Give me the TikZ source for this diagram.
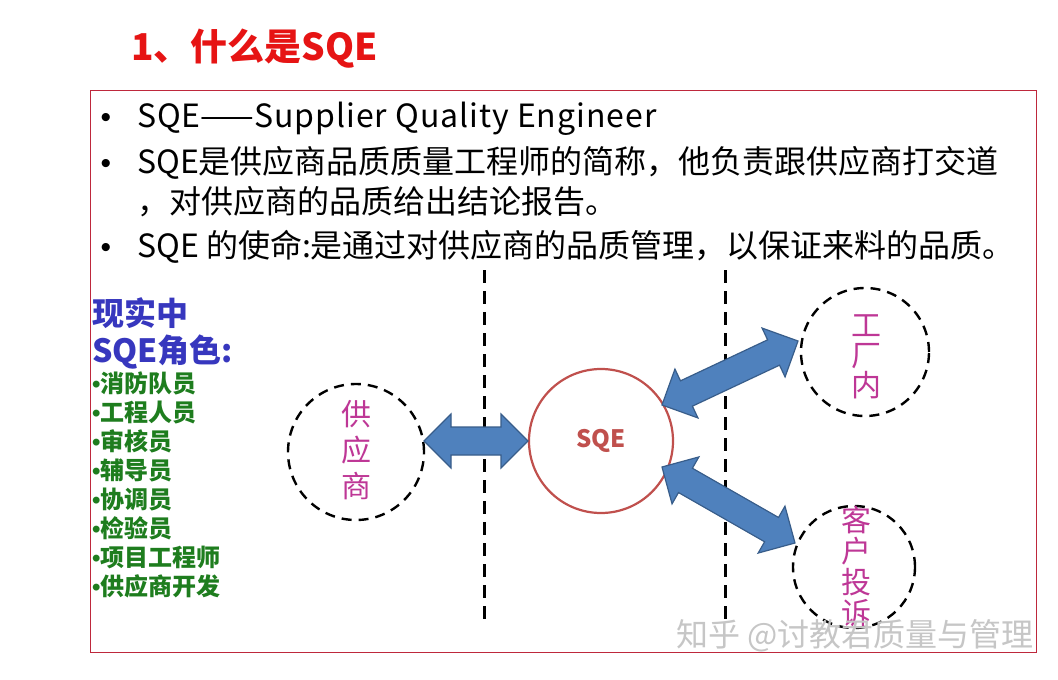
\documentclass[tikz,border=0pt]{standalone}
\usepackage{fontspec}
\setmainfont{Noto Sans CJK SC}
\newfontfamily\dotfont{Liberation Sans}
\newfontfamily\spacedfont[LetterSpace=3]{Noto Sans CJK SC}
\usetikzlibrary{calc}
\definecolor{titlered}{RGB}{230,20,20}
\definecolor{framered}{RGB}{190,40,60}
\definecolor{sqered}{RGB}{192,80,77}
\definecolor{arrfill}{RGB}{79,129,189}
\definecolor{arrdraw}{RGB}{56,93,138}
\definecolor{roleblue}{RGB}{55,55,190}
\definecolor{rolegreen}{RGB}{30,125,30}
\definecolor{magtext}{RGB}{190,55,150}
\tikzset{
  bodytext/.style={anchor=base west, font=\fontsize{32}{38}\selectfont, inner sep=0pt},
  bulletdot/.style={anchor=base, font=\dotfont\fontsize{30}{34}\selectfont, inner sep=0pt},
  bluetext/.style={anchor=base west, text=roleblue, font=\bfseries\fontsize{32}{38}\selectfont, inner sep=0pt},
  greentext/.style={anchor=base west, text=rolegreen, font=\bfseries\fontsize{24}{28}\selectfont, inner sep=0pt},
  dashcircle/.style={circle, draw=black, line width=2.4pt, dash pattern=on 10pt off 7pt},
  vtext/.style={text=magtext, align=center, inner sep=0pt},
  divider/.style={draw=black, line width=3pt, dash pattern=on 13pt off 8pt},
  arr/.style={fill=arrfill, draw=arrdraw, line width=1.2pt, line join=miter},
}
\newcommand\gdot{{\dotfont\bfseries •}}
\newcommand\dblarrow[2]{%
  \coordinate (#1-h) at ($(#1)!27pt!(#2)$);
  \coordinate (#2-h) at ($(#2)!27pt!(#1)$);
  \filldraw[arr] (#1) -- ($(#1-h)!27pt!90:(#2)$) -- ($(#1-h)!14pt!90:(#2)$)
    -- ($(#2-h)!14pt!-90:(#1)$) -- ($(#2-h)!27pt!-90:(#1)$) -- (#2)
    -- ($(#2-h)!27pt!90:(#1)$) -- ($(#2-h)!14pt!90:(#1)$)
    -- ($(#1-h)!14pt!-90:(#2)$) -- ($(#1-h)!27pt!-90:(#2)$) -- cycle;}
\begin{document}
\begin{tikzpicture}[x=1pt,y=-1pt]
\useasboundingbox (0,0) rectangle (1058,680);
\fill[white] (0,0) rectangle (1058,680);
% title
\node[anchor=base west, inner sep=0pt, text=titlered, font=\bfseries\fontsize{37}{42}\selectfont] (title) at (131,60) {1、什么是SQE};
% frame
\node[draw=framered, line width=1.2pt, minimum width=946pt, minimum height=562pt, anchor=north west, inner sep=0pt] (frame) at (90,90) {};
% bullets
\node[bulletdot] (d1) at (106,127) {•};
\node[bodytext] (b1) at (137,127) {{\spacedfont SQE}——{\spacedfont Supplier Quality Engineer}};
\node[bulletdot] (d2) at (106,173) {•};
\node[bodytext] (b2) at (137,173) {SQE是供应商品质质量工程师的简称，他负责跟供应商打交道};
\node[bodytext] (b3) at (137,213) {，对供应商的品质给出结论报告。};
\node[bulletdot] (d4) at (106,257) {•};
\node[bodytext] (b4) at (137,257) {SQE 的使命:是通过对供应商的品质管理，以保证来料的品质。};
% roles
\node[bluetext] (r1) at (92,325) {现实中};
\node[bluetext] (r2) at (92,362) {SQE角色:};
\node[greentext] (g1) at (92,392) {\gdot 消防队员};
\node[greentext] (g2) at (92,421) {\gdot 工程人员};
\node[greentext] (g3) at (92,450) {\gdot 审核员};
\node[greentext] (g4) at (92,479) {\gdot 辅导员};
\node[greentext] (g5) at (92,508) {\gdot 协调员};
\node[greentext] (g6) at (92,537) {\gdot 检验员};
\node[greentext] (g7) at (92,566) {\gdot 项目工程师};
\node[greentext] (g8) at (92,595) {\gdot 供应商开发};
% dividers
\coordinate (v1t) at (484,270); \coordinate (v1b) at (484,620);
\coordinate (v2t) at (725,270); \coordinate (v2b) at (725,620);
\draw[divider] (v1t) -- (v1b);
\draw[divider] (v2t) -- (v2b);
% circles
\node[dashcircle, minimum size=136pt] (sup) at (356,452) {};
\node[vtext, font=\fontsize{30}{36}\selectfont] (suptxt) at (356,450) {供\\应\\商};
\node[circle, draw=sqered, line width=2.2pt, minimum size=144pt, text=sqered, font=\bfseries\fontsize{24}{28}\selectfont] (sqe) at (601,441) {SQE};
\node[dashcircle, minimum size=128pt] (fac) at (865,352) {};
\node[vtext, font=\fontsize{30}{30}\selectfont] (factxt) at (866,357) {工\\厂\\内};
\node[dashcircle, minimum size=122pt] (cus) at (854,567) {};
\node[vtext, font=\fontsize{30}{31}\selectfont] (custxt) at (856,566) {客\\户\\投\\诉};
% arrows
\coordinate (a1l) at (424,441); \coordinate (a1r) at (528,441);
\coordinate (a2l) at (662,405); \coordinate (a2r) at (798,341);
\coordinate (a3l) at (662,467); \coordinate (a3r) at (795,543);
\dblarrow{a1l}{a1r}
\dblarrow{a2l}{a2r}
\dblarrow{a3l}{a3r}
% watermark
\node[anchor=base west, inner sep=0pt, text=gray!45, font=\fontsize{32}{38}\selectfont] (wm) at (676,646) {知乎 @讨教君质量与管理};
\end{tikzpicture}
\end{document}
